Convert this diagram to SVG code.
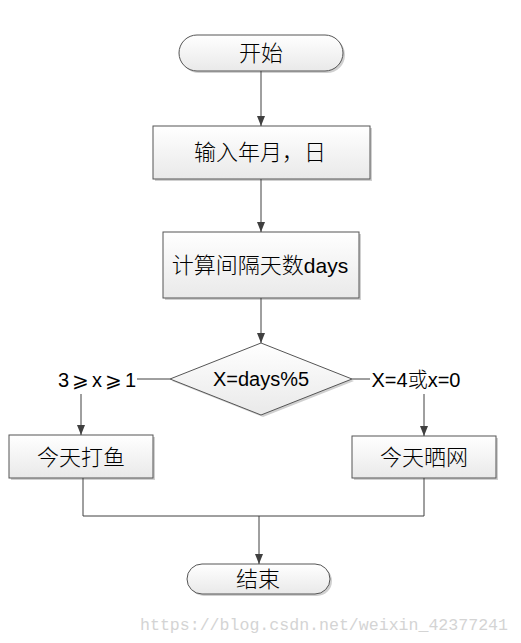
<svg xmlns="http://www.w3.org/2000/svg" width="521" height="643" viewBox="0 0 521 643">
<defs>
<linearGradient id="g" x1="0" y1="0" x2="0" y2="1">
<stop offset="0" stop-color="#ffffff"/>
<stop offset="1" stop-color="#e9e9e9"/>
</linearGradient>
<marker id="arr" viewBox="0 0 10 10" refX="10" refY="5" markerWidth="10" markerHeight="10" markerUnits="userSpaceOnUse" orient="auto">
<path d="M0,1 L10,5 L0,9 Z" fill="#404040"/>
</marker>
</defs>
<style>
.shape{fill:url(#g);stroke:#555;stroke-width:1}
.shadow{fill:#d0d0d0}
.cn{font-family:"Noto Sans CJK SC",sans-serif;font-size:22px;font-weight:300;fill:#000;text-anchor:middle}
.lat{font-family:"Liberation Sans","Noto Sans CJK SC",sans-serif;font-size:20px;fill:#000}
.conn{fill:none;stroke:#404040;stroke-width:1}
</style>
<rect width="521" height="643" fill="#fff"/>
<g id="start">
<rect class="shadow" x="181" y="37" width="164" height="36" rx="18"/>
<rect class="shape" x="179" y="35" width="164" height="36" rx="18"/>
<text class="cn" x="261" y="61">开始</text>
</g>
<g id="input">
<rect class="shadow" x="155" y="128" width="217" height="53"/>
<rect class="shape" x="153" y="126" width="217" height="53"/>
<text class="cn" x="260" y="160">输入年月，日</text>
</g>
<g id="calc">
<rect class="shadow" x="165" y="234" width="196" height="66"/>
<rect class="shape" x="163" y="232" width="196" height="66"/>
<text x="260" y="273" text-anchor="middle"><tspan font-family="Noto Sans CJK SC,sans-serif" font-size="22" font-weight="300">计算间隔天数</tspan><tspan font-family="Liberation Sans,sans-serif" font-size="21">days</tspan></text>
</g>
<g id="decision">
<polygon class="shadow" points="263,345 354,381 263,417 172,381"/>
<polygon class="shape" points="261,343 352,379 261,415 170,379"/>
<text class="lat" x="261" y="386" text-anchor="middle">X=days%5</text>
</g>
<g id="label-left">
<text class="lat" x="97" y="387" text-anchor="middle" textLength="78" lengthAdjust="spacing">3⩾x⩾1</text>
</g>
<g id="label-right">
<text class="lat" x="416" y="387" text-anchor="middle">X=4<tspan font-family="Noto Sans CJK SC" font-weight="300">或</tspan>x=0</text>
</g>
<g id="fish">
<rect class="shadow" x="11" y="437" width="144" height="43"/>
<rect class="shape" x="9" y="435" width="144" height="43"/>
<text class="cn" x="81" y="465">今天打鱼</text>
</g>
<g id="net">
<rect class="shadow" x="354" y="438" width="144" height="42"/>
<rect class="shape" x="352" y="436" width="144" height="42"/>
<text class="cn" x="424" y="465">今天晒网</text>
</g>
<g id="end">
<rect class="shadow" x="189" y="566" width="143" height="30" rx="15"/>
<rect class="shape" x="187" y="564" width="143" height="30" rx="15"/>
<text class="cn" x="258" y="587">结束</text>
</g>
<g id="connectors">
<path class="conn" d="M261,71 L261,126" marker-end="url(#arr)"/>
<path class="conn" d="M261,179 L261,232" marker-end="url(#arr)"/>
<path class="conn" d="M261,298 L261,343" marker-end="url(#arr)"/>
<path class="conn" d="M170,379 L137,379"/>
<path class="conn" d="M352,379 L370,379"/>
<path class="conn" d="M81,394 L81,435" marker-end="url(#arr)"/>
<path class="conn" d="M424,394 L424,436" marker-end="url(#arr)"/>
<path class="conn" d="M83,478 L83,516 L424,516 L424,478"/>
<path class="conn" d="M259,516 L259,564" marker-end="url(#arr)"/>
</g>
<text x="140" y="630" font-family="Liberation Mono,monospace" font-size="16" fill="#d4d4d4" textLength="368" lengthAdjust="spacingAndGlyphs">https://blog.csdn.net/weixin_42377241</text>
</svg>
